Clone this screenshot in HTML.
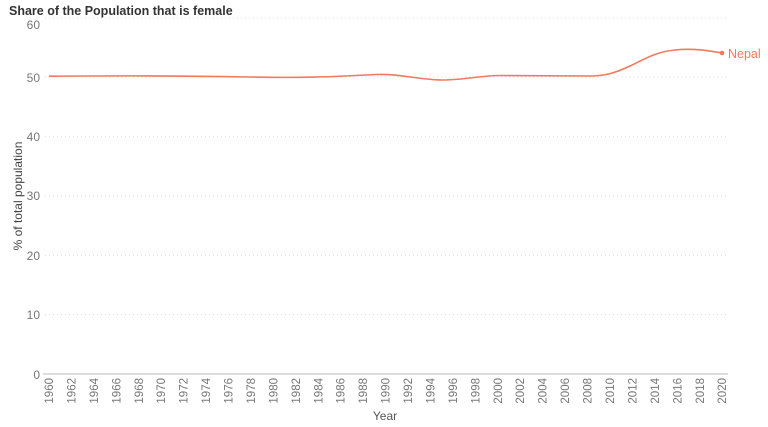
<!DOCTYPE html>
<html><head><meta charset="utf-8"><style>
body{margin:0;background:#fff;}
svg{display:block;font-family:"Segoe UI","Liberation Sans",sans-serif;}
</style></head><body>
<svg width="768" height="427" viewBox="0 0 768 427">
<text x="9" y="15" font-size="12.5" font-weight="bold" fill="#333">Share of the Population that is female</text>
<g stroke="#ddd" stroke-dasharray="1,3" stroke-width="1">
<line x1="45" x2="728" y1="18" y2="18"/>
<line x1="45" x2="728" y1="77" y2="77"/>
<line x1="45" x2="728" y1="136.4" y2="136.4"/>
<line x1="45" x2="728" y1="195.8" y2="195.8"/>
<line x1="45" x2="728" y1="255.2" y2="255.2"/>
<line x1="45" x2="728" y1="314.6" y2="314.6"/>
</g>
<line x1="43" x2="728" y1="374" y2="374" stroke="#bbb" stroke-width="1"/>
<g font-size="12" fill="#777" text-anchor="end">
<text x="40" y="29">60</text>
<text x="40" y="82">50</text>
<text x="40" y="141">40</text>
<text x="40" y="200">30</text>
<text x="40" y="260">20</text>
<text x="40" y="319">10</text>
<text x="40" y="379">0</text>
</g>
<g font-size="11.5" fill="#777" text-anchor="end">
<text transform="translate(53,378) rotate(-90)">1960</text>
<text transform="translate(75.4,378) rotate(-90)">1962</text>
<text transform="translate(97.9,378) rotate(-90)">1964</text>
<text transform="translate(120.3,378) rotate(-90)">1966</text>
<text transform="translate(142.8,378) rotate(-90)">1968</text>
<text transform="translate(165.2,378) rotate(-90)">1970</text>
<text transform="translate(187.6,378) rotate(-90)">1972</text>
<text transform="translate(210.1,378) rotate(-90)">1974</text>
<text transform="translate(232.5,378) rotate(-90)">1976</text>
<text transform="translate(255,378) rotate(-90)">1978</text>
<text transform="translate(277.4,378) rotate(-90)">1980</text>
<text transform="translate(299.8,378) rotate(-90)">1982</text>
<text transform="translate(322.3,378) rotate(-90)">1984</text>
<text transform="translate(344.7,378) rotate(-90)">1986</text>
<text transform="translate(367.2,378) rotate(-90)">1988</text>
<text transform="translate(389.6,378) rotate(-90)">1990</text>
<text transform="translate(412,378) rotate(-90)">1992</text>
<text transform="translate(434.5,378) rotate(-90)">1994</text>
<text transform="translate(456.9,378) rotate(-90)">1996</text>
<text transform="translate(479.4,378) rotate(-90)">1998</text>
<text transform="translate(501.8,378) rotate(-90)">2000</text>
<text transform="translate(524.2,378) rotate(-90)">2002</text>
<text transform="translate(546.7,378) rotate(-90)">2004</text>
<text transform="translate(569.1,378) rotate(-90)">2006</text>
<text transform="translate(591.6,378) rotate(-90)">2008</text>
<text transform="translate(614,378) rotate(-90)">2010</text>
<text transform="translate(636.4,378) rotate(-90)">2012</text>
<text transform="translate(658.9,378) rotate(-90)">2014</text>
<text transform="translate(681.3,378) rotate(-90)">2016</text>
<text transform="translate(703.8,378) rotate(-90)">2018</text>
<text transform="translate(726.2,378) rotate(-90)">2020</text>
</g>
<text x="385" y="420" font-size="12" fill="#555" text-anchor="middle">Year</text>
<text transform="translate(22,196) rotate(-90)" font-size="12" fill="#444" text-anchor="middle">% of total population</text>
<path d="M49,76.2 C120,75.8 170,75.5 250,77 C300,78 330,77 376,74.5 C400,73.5 420,80 442,80 C465,80 480,75.5 500,75.5 C540,75.5 570,76 590,76 C605,76 615,73 630,66 C645,59 655,52 675,50 C695,48 710,51 722,53" fill="none" stroke="#f07a5e" stroke-width="1.6"/>
<circle cx="722" cy="53" r="2.3" fill="#f07a5e"/>
<text x="728" y="58" font-size="12.5" fill="#f07a5e">Nepal</text>
</svg>
</body></html>
